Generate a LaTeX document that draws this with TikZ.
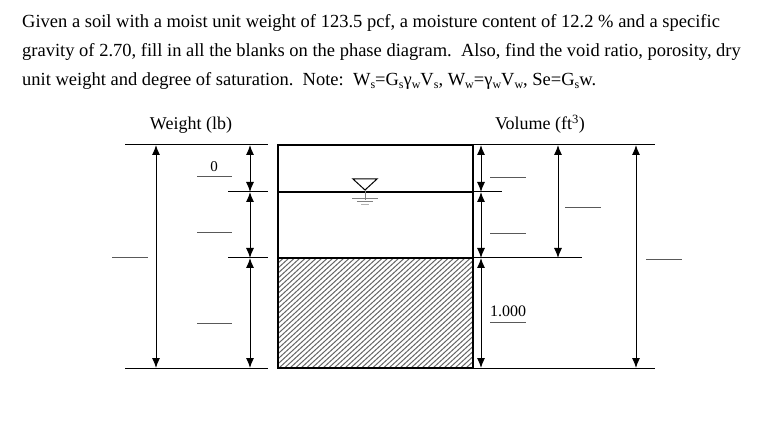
\documentclass[tikz,border=0pt]{standalone}
\usepackage{fontspec}
\setmainfont{Liberation Serif}
\newcommand{\sbs}[1]{\raisebox{-0.35ex}{\fontsize{12}{12}\selectfont #1}}
\begin{document}
\begin{tikzpicture}[x=1pt,y=-1pt,
  txt/.style={anchor=base west,inner sep=0,font=\fontsize{18.5}{21}\selectfont},
  lbl/.style={inner sep=0,font=\fontsize{18}{20}\selectfont},
  ln/.style={line width=1pt},
  dim/.style={line width=1pt,{Latex[length=10pt,width=8pt]}-{Latex[length=10pt,width=8pt]}},
  blank/.style={line width=1pt,gray!70!black}]
\useasboundingbox (0,0) rectangle (768,430);
\usetikzlibrary{arrows.meta}
\node[txt] (t1) at (22,28) {Given a soil with a moist unit weight of 123.5 pcf, a moisture content of 12.2 \% and a specific};
\node[txt] (t2) at (22,57) {gravity of 2.70, fill in all the blanks on the phase diagram.\ \ Also, find the void ratio, porosity, dry};
\node[txt] (t3) at (22,86) {unit weight and degree of saturation.\ \ Note:\ \ W\sbs{s}=G\sbs{s}γ\sbs{w}V\sbs{s}, W\sbs{w}=γ\sbs{w}V\sbs{w}, Se=G\sbs{s}w.};
\node[lbl] (wl) at (191,125) {Weight (lb)};
\node[lbl] (vl) at (540,124) {Volume (ft\textsuperscript{3})};
% soil hatch
\begin{scope}
\clip (278,258) rectangle (473,368);
\foreach \i in {0,5.5,...,320} {\draw[gray!80!black,line width=1pt] (278+\i-120,368) -- (278+\i,258);}
\end{scope}
\draw[line width=1.4pt] (278,145) rectangle (473,368);
\draw[line width=1.4pt] (278,192) -- (473,192);
\draw[line width=1.4pt] (278,258) -- (473,258);
% water symbol
\draw[line width=1pt] (353,179) -- (377,179) -- (365,190) -- cycle;
\draw[gray,line width=1pt] (365,190) -- (365,200);
\draw[gray,line width=1pt] (352,199) -- (378,199);
\draw[gray,line width=1pt] (357,202) -- (373,202);
\draw[gray!60,line width=1pt] (361,205) -- (369,205);
% left
\coordinate (lt1) at (125,145); \coordinate (lt2) at (268,145);
\coordinate (lb1) at (125,368); \coordinate (lb2) at (268,368);
\draw[ln] (lt1) -- (lt2); \draw[ln] (lb1) -- (lb2);
\draw[ln] (228,192) -- (268,192); \draw[ln] (228,258) -- (268,258);
\coordinate (la) at (156,145); \coordinate (lb) at (156,368);
\draw[dim] (la) -- (lb);
\coordinate (a0) at (250,145); \coordinate (a1) at (250,192); \coordinate (a2) at (250,258); \coordinate (a3) at (250,368);
\draw[dim] (a0) -- (a1); \draw[dim] (a1) -- (a2); \draw[dim] (a2) -- (a3);
\draw[blank] (112,258) -- (148,258);
\draw[blank] (197,177) -- (232,177);
\node[lbl,font=\fontsize{15}{16}\selectfont] (zero) at (214,167) {0};
\draw[blank] (197,233) -- (232,233);
\draw[blank] (197,323) -- (232,323);
% right
\draw[ln] (462,145) -- (655,145); \draw[ln] (462,368) -- (655,368);
\draw[ln] (461,192) -- (502,192); \draw[ln] (461,258) -- (582,258);
\coordinate (b0) at (481,145); \coordinate (b1) at (481,192); \coordinate (b2) at (481,258); \coordinate (b3) at (481,368);
\draw[dim] (b0) -- (b1); \draw[dim] (b1) -- (b2); \draw[dim] (b2) -- (b3);
\coordinate (c0) at (558,145); \coordinate (c1) at (558,258);
\draw[dim] (c0) -- (c1);
\coordinate (d0) at (636,145); \coordinate (d1) at (636,368);
\draw[dim] (d0) -- (d1);
\draw[blank] (490,178) -- (526,178);
\draw[blank] (490,234) -- (526,234);
\draw[blank] (565,208) -- (601,208);
\draw[blank] (646,260) -- (682,260);
\node[lbl,font=\fontsize{16}{17}\selectfont] (one) at (508,311) {1.000};
\draw[blank] (490,322) -- (526,322);
\end{tikzpicture}
\end{document}
